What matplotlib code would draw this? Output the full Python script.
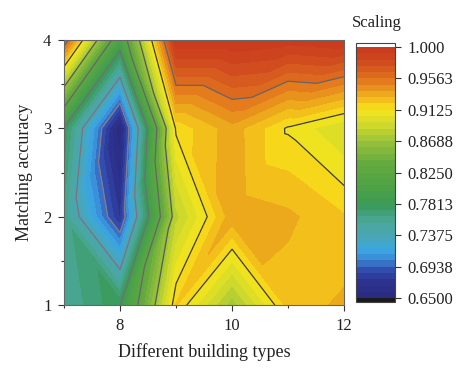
import numpy as np
import matplotlib
matplotlib.use("Agg")
import matplotlib.pyplot as plt
import matplotlib.tri as mtri
from matplotlib.colors import LinearSegmentedColormap, Normalize
from matplotlib.ticker import MultipleLocator

plt.rcParams['font.family'] = ['Liberation Serif', 'DejaVu Serif']
plt.rcParams['font.size'] = 12

# grid of building types (x) and matching accuracy (y)
building_types = [7, 8, 9, 10, 11, 12]
accuracy_levels = [1, 2, 3, 4]

# scaling values, one row per accuracy level (y = 1 .. 4)
scaling_y1 = [0.755, 0.780, 0.922, 0.872, 0.925, 0.932]
scaling_y2 = [0.761, 0.675, 0.883, 0.936, 0.932, 0.922]
scaling_y3 = [0.780, 0.652, 0.915, 0.935, 0.911, 0.895]
scaling_y4 = [0.970, 0.800, 1.000, 1.000, 0.996, 1.000]

cbar_ticks = [0.65, 0.6938, 0.7375, 0.7813, 0.825, 0.8688, 0.9125, 0.9563, 1.0]
cbar_labels = ['0.6500', '0.6938', '0.7375', '0.7813', '0.8250',
               '0.8688', '0.9125', '0.9563', '1.000']

# how each grid cell is split into two triangles (1 = '/', 0 = '\')
cell_diagonals = [
    [0, 1, 1, 0, 1],
    [1, 1, 0, 1, 0],
    [1, 0, 1, 1, 1],
]

X, Y = np.meshgrid(building_types, accuracy_levels)
Z = np.array([scaling_y1, scaling_y2, scaling_y3, scaling_y4])

nx, ny = len(building_types), len(accuracy_levels)
triangles = []
for j in range(ny - 1):
    for i in range(nx - 1):
        a = j * nx + i
        b = a + 1
        c = a + nx
        d = c + 1
        if cell_diagonals[j][i]:
            triangles += [[a, b, d], [a, d, c]]
        else:
            triangles += [[a, b, c], [b, d, c]]
tri = mtri.Triangulation(X.ravel(), Y.ravel(), triangles)

# colour map roughly following the scale bar
vmin, vmax = 0.65, 1.0
anchors = [
    (0.650, '#2a2a7e'), (0.675, '#2e3492'), (0.690, '#3250b0'),
    (0.705, '#3a8ed8'), (0.717, '#3aa8e2'), (0.735, '#4aa6b4'),
    (0.755, '#4aa79e'), (0.780, '#3a9a55'), (0.805, '#4ea246'),
    (0.840, '#66ab3e'), (0.870, '#9cc43a'), (0.895, '#d6dc2a'),
    (0.9125, '#f8e41a'), (0.922, '#f6cc1a'), (0.932, '#eeae1c'),
    (0.942, '#e9961d'), (0.952, '#e47c1e'), (0.965, '#db621f'),
    (0.980, '#d04a1f'), (1.000, '#c8381d'),
]
cmap = LinearSegmentedColormap.from_list(
    'scaling', [((v - vmin) / (vmax - vmin), c) for v, c in anchors])
cmap.set_over('white')
cmap.set_under('#1a1a1a')

line_colors = ['#8a7a88', '#7e7280', '#707070', '#666666', '#585858', '#3c3c3c', '#666666']

fig = plt.figure(figsize=(4.74, 3.80), dpi=100)
ax = fig.add_axes([0.135, 0.197, 0.591, 0.698])
cax = fig.add_axes([0.751, 0.205, 0.082, 0.682])

levels = np.linspace(vmin, vmax, 41)
cs = ax.tricontourf(tri, Z.ravel(), levels=levels, cmap=cmap,
                    norm=Normalize(vmin, vmax), extend='both')
ax.tricontour(tri, Z.ravel(), levels=cbar_ticks[1:-1], colors=line_colors,
              linewidths=0.9)

ax.set_xlim(7, 12)
ax.set_ylim(1, 4)
ax.xaxis.set_major_locator(MultipleLocator(2))
ax.xaxis.set_minor_locator(MultipleLocator(1))
ax.yaxis.set_major_locator(MultipleLocator(1))
ax.yaxis.set_minor_locator(MultipleLocator(0.5))
ax.tick_params(which='major', direction='out', length=4, width=0.8, colors='#333333',
               labelcolor='#222222', pad=5)
ax.tick_params(which='minor', direction='out', length=2.5, width=0.8, colors='#333333')
for s in ax.spines.values():
    s.set_color('#666666')
    s.set_linewidth(0.8)
ax.set_xlabel('Different building types', color='#222222', fontsize=13, labelpad=7)
ax.set_ylabel('Matching accuracy', color='#222222', fontsize=13, labelpad=7)

cb = fig.colorbar(cs, cax=cax, extend='both', extendrect=True, extendfrac=0.016,
                  ticks=cbar_ticks)
cb.set_ticklabels(cbar_labels)
cb.ax.tick_params(direction='out', length=4, width=0.8, colors='#333333',
                  labelcolor='#222222', labelsize=12, pad=5)
cb.outline.set_edgecolor('#444444')
cb.outline.set_linewidth(0.8)
cb.ax.minorticks_off()
fig.text(0.743, 0.94, 'Scaling', ha='left', va='center', color='#222222', fontsize=12)

fig.savefig('out.png', dpi=100)
